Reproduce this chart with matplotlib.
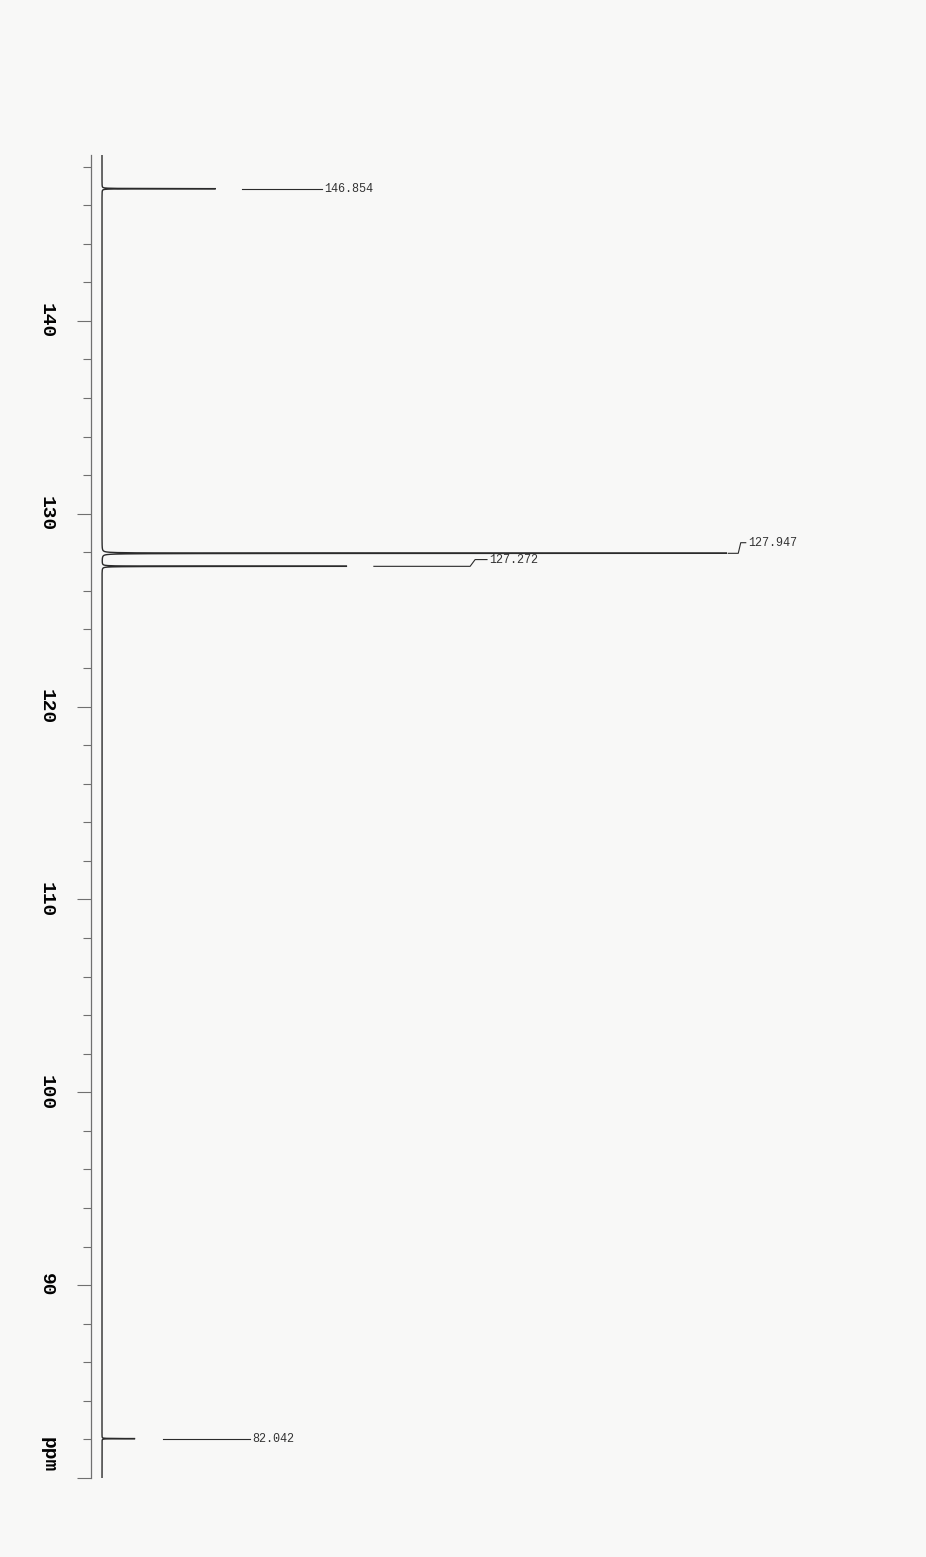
import numpy as np
import matplotlib
matplotlib.use("Agg")
import matplotlib.pyplot as plt
from matplotlib.ticker import FixedLocator, MultipleLocator

# ---------------- data ----------------
peak_ppm = [146.854, 127.947, 127.272, 82.042]
peak_height = [18.2, 100.0, 39.2, 5.3]          # relative intensity
peak_labels = ["146.854", "127.947", "127.272", "82.042"]
major_ticks = [80, 90, 100, 110, 120, 130, 140]
major_labels = ["", "90", "100", "110", "120", "130", "140"]
ppm_min, ppm_max = 80.0, 148.6
line_hwhm = 0.006                                # ppm

# ---------------- style ----------------
# leader geometry per peak: (gap, length, bend_dx, bend_dppm, tail)
leader_style = [
    (4.2, 12.8, 0.0, 0.0, 0.0),
    (0.2, 1.6, 0.4, 0.55, 0.8),
    (4.3, 15.4, 0.8, 0.35, 1.9),
    (4.5, 13.8, 0.0, 0.0, 0.0),
]
bg = "#f8f8f7"
spec_col = "#2b2b2b"
axis_col = "#707070"
mono = ["Liberation Mono", "DejaVu Sans Mono"]

W, H, DPI = 926, 1557, 100
fig = plt.figure(figsize=(W / DPI, H / DPI), dpi=DPI, facecolor=bg)

ax_left, ax_right, ax_top, ax_bot = 91, 905, 155, 1478
ax = fig.add_axes([ax_left / W, 1 - ax_bot / H,
                   (ax_right - ax_left) / W, (ax_bot - ax_top) / H])
ax.set_facecolor("none")

# spectrum: sum of Lorentzian lines on a fine ppm grid
grid = np.union1d(np.arange(ppm_min - 0.5, ppm_max + 0.5, 0.001), peak_ppm)
spec = np.zeros_like(grid)
for p, h in zip(peak_ppm, peak_height):
    spec += h * line_hwhm ** 2 / ((grid - p) ** 2 + line_hwhm ** 2)
ax.plot(spec, grid, color=spec_col, lw=1.0, solid_joinstyle="miter")

# peak labels with leader lines
for p, h, lab, (gap, L, bdx, bdp, tail) in zip(peak_ppm, peak_height,
                                               peak_labels, leader_style):
    x0 = h + gap
    x1 = x0 + L
    x2 = x1 + bdx
    x3 = x2 + tail
    xs = [x0, x1, x2, x3]
    ys = [p, p, p + bdp, p + bdp]
    ax.plot(xs, ys, color=spec_col, lw=0.8)
    ax.text(x3 + 0.4, p + bdp, lab, ha="left", va="center",
            fontsize=8.5, family=mono, color="#333333")

# axes
ax.set_ylim(ppm_min, ppm_max)
ax.set_xlim(-11 / 6.25, (ax_right - 102) / 6.25)
for s in ["top", "right", "bottom"]:
    ax.spines[s].set_visible(False)
ax.spines["left"].set_color(axis_col)
ax.spines["left"].set_linewidth(0.9)
ax.xaxis.set_visible(False)

ax.yaxis.set_major_locator(FixedLocator(major_ticks))
ax.yaxis.set_minor_locator(MultipleLocator(2))
ax.set_yticklabels(major_labels, rotation=-90, va="center",
                   fontsize=14, family=mono, fontweight="bold")
ax.tick_params(axis="y", which="major", length=10, width=0.8,
               color=axis_col, pad=16)
ax.tick_params(axis="y", which="minor", length=5.5, width=0.8,
               color=axis_col)

ax.text(-0.0528, 81.2, "ppm", transform=ax.get_yaxis_transform(),
        rotation=-90, ha="center", va="center", fontsize=14,
        family=mono, fontweight="bold", color="black")

fig.savefig("out.png", dpi=DPI, facecolor=bg)
